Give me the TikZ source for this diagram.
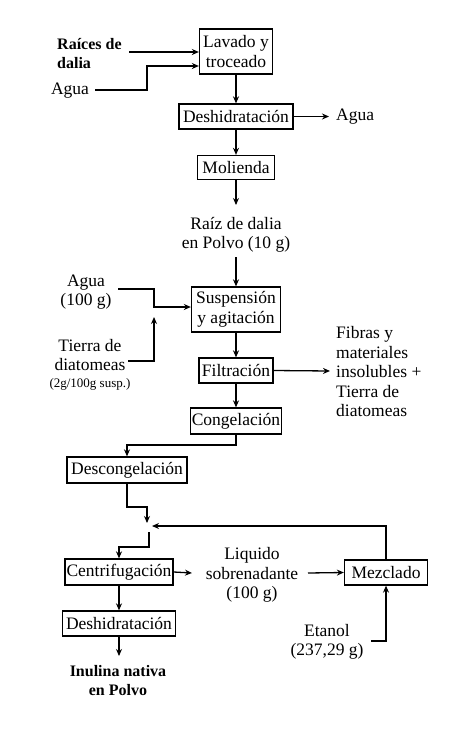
\documentclass[tikz,border=0pt]{standalone}
\usepackage{fontspec}
\setmainfont{Liberation Serif}
\usetikzlibrary{arrows.meta}
\tikzset{
  box/.style={draw, line width=1.3pt, inner sep=0pt, align=center, font=\fontsize{17.5}{19.5}\selectfont},
  txt/.style={inner sep=0pt, align=center, font=\fontsize{17.5}{19.5}\selectfont},
  btxt/.style={inner sep=0pt, align=center, font=\fontsize{16}{19}\selectfont\bfseries},
  small/.style={inner sep=0pt, align=center, font=\fontsize{13}{15}\selectfont},
  arr/.style={line width=1.3pt, -{Stealth[length=7pt,width=6pt]}}
}
\begin{document}
\begin{tikzpicture}[x=1pt,y=-1pt]
\useasboundingbox (0,0) rectangle (474,737);
% boxes
\node[box, minimum width=73pt, minimum height=45pt] (lav) at (236,51.5) {Lavado y\\troceado};
\node[box, minimum width=114pt, minimum height=25pt] (des1) at (236,116.5) {Deshidratación};
\node[box, minimum width=77pt, minimum height=24pt] (mol) at (236,167.5) {Molienda};
\node[box, minimum width=89pt, minimum height=45pt] (susp) at (236,309.5) {Suspensión\\y agitación};
\node[box, minimum width=74pt, minimum height=25pt] (filt) at (236,370.5) {Filtración};
\node[box, minimum width=91pt, minimum height=26pt] (cong) at (236,421) {Congelación};
\node[box, minimum width=120pt, minimum height=26pt] (descong) at (127,470) {Descongelación};
\node[box, minimum width=108pt, minimum height=26pt] (cent) at (119,572) {Centrifugación};
\node[box, minimum width=83pt, minimum height=25pt] (mez) at (386,572.5) {Mezclado};
\node[box, minimum width=113pt, minimum height=25pt] (des2) at (119,623.5) {Deshidratación};
% texts
\node[btxt, anchor=west, align=left] (raices) at (57,53.5) {Raíces de\\dalia};
\node[txt] (agua1) at (70,91) {Agua};
\node[txt, anchor=west] (agua2) at (336,116.5) {Agua};
\node[txt] (raiz) at (236,235) {Raíz de dalia\\en Polvo (10 g)};
\node[txt] (aguab) at (86,292) {Agua\\(100 g)};
\node[txt] (tierra) at (90,355) {Tierra de\\diatomeas};
\node[small] (tierrasub) at (90,384) {(2g/100g susp.)};
\node[txt, anchor=west, align=left] (fibras) at (336,372) {Fibras y\\materiales\\insolubles +\\Tierra de\\diatomeas};
\node[txt] (liq) at (252,575) {Liquido\\sobrenadante\\(100 g)};
\node[txt] (etanol) at (327,642) {Etanol\\(237,29 g)};
\node[btxt] (inulina) at (118,681) {Inulina nativa\\en Polvo};
% coordinates
\coordinate (r1) at (129,52);
\coordinate (a1) at (95,90);
\coordinate (a1k) at (147,90);
\coordinate (raizin) at (236,205);
\coordinate (raizout) at (236,257);
\coordinate (ab1) at (118,289);
\coordinate (abk) at (154,289);
\coordinate (t1) at (128,361);
\coordinate (tk) at (154,361);
\coordinate (tend) at (154,317);
\coordinate (fibin) at (330,371);
\coordinate (ck) at (236,445);
\coordinate (dk1) at (127,507);
\coordinate (dk2) at (147,507);
\coordinate (jin) at (147,523);
\coordinate (jfb) at (152,526);
\coordinate (jout) at (149,532);
\coordinate (jk) at (149,547);
\coordinate (liqin) at (192,573);
\coordinate (liqout) at (308,573);
\coordinate (inuin) at (119,656);
\coordinate (et1) at (371,641);
% connectors
\draw[arr] (r1) -- (lav.west |- r1);
\draw[arr] (a1) -- (a1k) |- (lav.west |- 0,66);
\draw[arr] (lav) -- (des1);
\draw[arr] (des1.east) -- ([xshift=-7pt]agua2.west);
\draw[arr] (des1) -- (mol);
\draw[arr] (mol.south) -- (raizin);
\draw[arr] (raizout) -- (susp.north);
\draw[arr] (ab1) -- (abk) |- (susp.west |- 0,307);
\draw[arr] (t1) -- (tk) -- (tend);
\draw[arr] (susp) -- (filt);
\draw[arr] (filt) -- (cong);
\draw[arr] (filt.east) -- (fibin);
\draw[arr] (cong.south) -- (ck) -| (descong.north);
\draw[arr] (descong.south) -- (dk1) -- (dk2) -- (jin);
\draw[arr] (mez.north) |- (jfb);
\draw[arr] (jout) -- (jk) -| (cent.north);
\draw[arr] (cent.east) -- (liqin);
\draw[arr] (liqout) -- (mez.west);
\draw[arr] (cent) -- (des2);
\draw[arr] (des2.south) -- (inuin);
\draw[arr] (et1) -| (mez.south);
\end{tikzpicture}
\end{document}
